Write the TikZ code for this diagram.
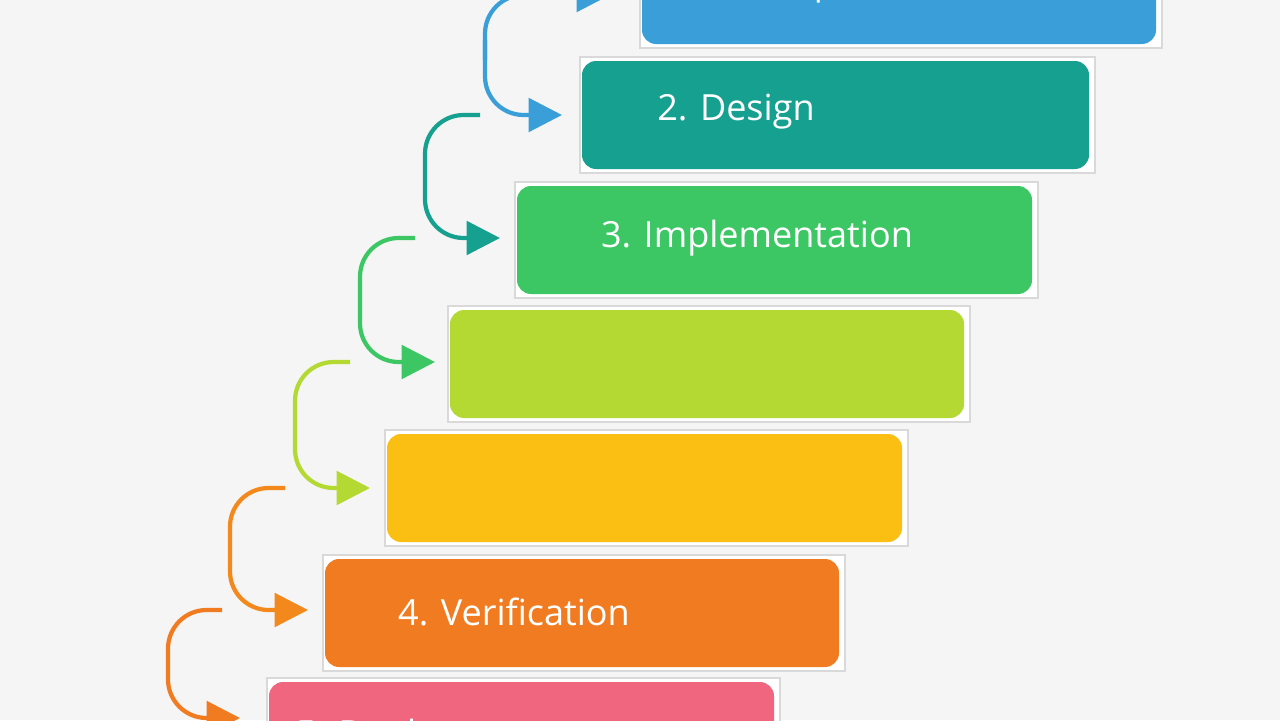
\documentclass[tikz,border=0pt]{standalone}
\usepackage{fontspec}
\setmainfont{Open Sans}
\usetikzlibrary{arrows.meta}
\begin{document}
\begin{tikzpicture}[x=0.02cm,y=-0.02cm,
  back/.style={fill=white, draw=black!15, line width=0.6pt},
  lbl/.style={text=white, font=\fontsize{20.5}{24}\selectfont},
  link/.style={line width=2.4pt, rounded corners=22pt, -{Triangle[length=19pt,width=19pt]}}]
\clip (0,0) rectangle (1280,720);
\fill[gray!8] (0,0) rectangle (1280,720);
\definecolor{c1}{HTML}{3A9FD8}\definecolor{c2}{HTML}{16A08F}\definecolor{c3}{HTML}{3CC764}
\definecolor{c4}{HTML}{B4D932}\definecolor{c5}{HTML}{FBBE12}\definecolor{c6}{HTML}{F17B20}
\definecolor{c7}{HTML}{F1667F}
\foreach \a/\b/\t/\c/\n in {640/1162/-68/c1/b1, 580/1095/57/c2/b2, 515/1038/182/c3/b3, 448/970/306/c4/b4, 385/908/430/c5/b5, 323/845/555/c6/b6, 267/780/678/c7/b7}{
  \fill[back] (\a,\t) rectangle (\b,\t+116);
  \fill[\c, rounded corners=8pt] (\a+2,\t+4) rectangle (\b-6,\t+112);
  \coordinate (\n) at (\a,\t+58);
}
\node[lbl] (t1) at (855,-14) {1. Requirements};
\node[lbl] (t2) at (736,112) {2. Design};
\node[lbl] (t3) at (757,238) {3. Implementation};
\node[lbl] (t6) at (514,612) {4. Verification};
\node[lbl] (t7) at (420,737) {5. Deployment};
\draw[link,c1] (485,60) -- (485,-5) -- (610,-5);
\draw[link,c1] (485,40) -- (485,115) -- (562,115);
\draw[link,c2] (480,115) -- (425,115) -- (425,238) -- (500,238);
\draw[link,c3] (415,238) -- (360,238) -- (360,362) -- (435,362);
\draw[link,c4] (350,362) -- (295,362) -- (295,488) -- (370,488);
\draw[link,c6!80!c5] (285,488) -- (230,488) -- (230,610) -- (308,610);
\draw[link,c6] (222,610) -- (168,610) -- (168,718) -- (240,718);
\end{tikzpicture}
\end{document}
